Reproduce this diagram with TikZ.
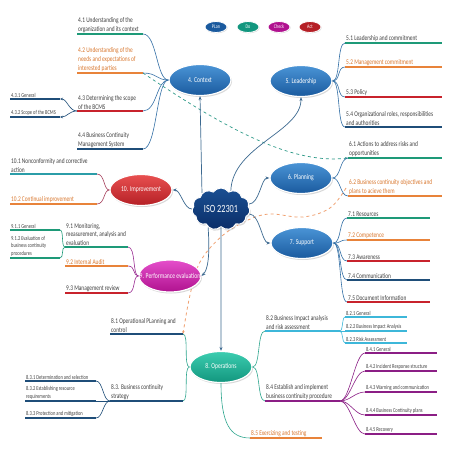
\documentclass[tikz,border=0pt]{standalone}
\usepackage{fontspec}
\setmainfont[FakeStretch=0.75]{Carlito}
\usetikzlibrary{shapes.geometric,shapes.symbols,shadows,arrows.meta,backgrounds}
\definecolor{cGreen}{HTML}{1E9A78}
\definecolor{cOrange}{HTML}{E8833A}
\definecolor{cRed}{HTML}{C8232C}
\definecolor{cNavy}{HTML}{1F4E79}
\definecolor{cTeal}{HTML}{2B9DA8}
\definecolor{cCyan}{HTML}{3DB7D9}
\definecolor{cPurple}{HTML}{8B1E85}
\definecolor{txtgray}{HTML}{404040}
\definecolor{txtorange}{HTML}{D9772E}
\definecolor{twBlue}{HTML}{3470A6}
\definecolor{twRed}{HTML}{A6405C}
\definecolor{twPurple}{HTML}{9A2C92}
\definecolor{twTeal}{HTML}{2EA68E}
\definecolor{linkblue}{HTML}{3C6990}
\definecolor{blueTop}{HTML}{4A94D6}
\definecolor{blueBot}{HTML}{1A5A9E}
\definecolor{redTop}{HTML}{E85050}
\definecolor{redBot}{HTML}{B52026}
\definecolor{magTop}{HTML}{E54FCB}
\definecolor{magBot}{HTML}{B0128F}
\definecolor{tealTop}{HTML}{3CCDB0}
\definecolor{tealBot}{HTML}{12967E}
\definecolor{cloudTop}{HTML}{1A4F92}
\definecolor{cloudBot}{HTML}{0B2E68}
\definecolor{dashGreen}{HTML}{2E9A88}
\definecolor{dashOrange}{HTML}{F0A070}

\begin{document}
\begin{tikzpicture}[x=1pt, y=-1pt,
  every node/.style={font=\fontsize{7.2}{8.6}\selectfont, text=txtgray},
  topic/.style={ellipse, draw=white, line width=1.2pt, minimum width=62pt,
    minimum height=31pt, inner sep=0pt, text=white, font=\fontsize{7.5}{9}\selectfont,
    drop shadow={opacity=.3, shadow xshift=1pt, shadow yshift=-1.5pt}},
  blue topic/.style={topic, top color=blueTop, bottom color=blueBot},
  red topic/.style={topic, top color=redTop, bottom color=redBot},
  magenta topic/.style={topic, top color=magTop, bottom color=magBot},
  teal topic/.style={topic, top color=tealTop, bottom color=tealBot},
  hub/.style={cloud, cloud puffs=11, cloud puff arc=110, cloud ignores aspect,
    minimum width=58pt, minimum height=42pt, inner sep=0pt, draw=white, line width=1pt,
    top color=cloudTop, bottom color=cloudBot, text=white, font=\fontsize{11}{13}\selectfont,
    drop shadow={opacity=.3, shadow xshift=1pt, shadow yshift=-1.5pt}},
  pdca/.style={ellipse, draw=white, line width=.8pt, minimum width=22pt, minimum height=11pt,
    inner sep=0pt, text=white, font=\fontsize{5.5}{6}\selectfont,
    drop shadow={opacity=.3, shadow xshift=.6pt, shadow yshift=-.8pt}},
  item/.style={anchor=south west, align=left, inner xsep=1pt, inner ysep=1.5pt},
  subitem/.style={item, font=\fontsize{6}{7.5}\selectfont},
  uline/.style={line width=1.6pt},
  twig/.style={line width=.6pt},
  link/.style={line width=.7pt, draw=linkblue, -{Stealth[length=4pt,width=3pt]}},
  tip/.style={-{Stealth[length=3pt,width=2.5pt]}}]
\begin{pgfonlayer}{background}
  \fill[white] (0,0) rectangle (452,452);
\end{pgfonlayer}
\useasboundingbox (0,0) rectangle (452,452);

% legend
\node[pdca, fill=blueBot] (lgP) at (216,27) {PLan};
\node[pdca, fill=tealBot] (lgD) at (248,27) {Do};
\node[pdca, fill=magBot] (lgC) at (279,27) {Check};
\node[pdca, fill=redBot] (lgA) at (310,27) {Act};

% clauses
\node[blue topic] (ctx) at (200,80) {4. Context};
\node[blue topic] (lead) at (301,81) {5. Leadership};
\node[blue topic] (plan) at (301,178) {6. Planning};
\node[blue topic] (supp) at (302,243) {7. Support};
\node[red topic] (impr) at (141,190) {10. Improvement};
\node[magenta topic, minimum height=32pt] (perf) at (170,276) {\makebox[0pt]{9. Performance evaluation}};
\node[teal topic] (ops) at (221,367) {8. Operations};
\node[hub] (iso) at (221,209) {ISO 22301};

\draw[link] (iso.140) -- (ctx.south);
\draw[link] (iso.62) .. controls +(2,-45) and +(0,35) .. (lead.south);
\draw[link] (iso.10) .. controls +(10,0) and +(-8,0) .. (plan.west);
\draw[link] (iso.-10) .. controls +(10,0) and +(-8,0) .. (supp.west);
\draw[link] (iso.west) .. controls +(-8,0) and +(8,0) .. (impr.east);
\draw[link] (iso.235) .. controls +(2,30) and +(6,-6) .. (perf.east);
\draw[link] (iso.south) -- (ops.north);

% 4. Context
\node[item] (t41) at (77,34) {4.1 Understanding of the\\organization and its context};
\draw[uline, cGreen] (t41.south west) -- ++(66,0) coordinate (e41);
\node[item, text=txtorange] (t42) at (77,73) {4.2 Understanding of the\\needs and expectations of\\interested parties};
\draw[uline, cOrange] (t42.south west) -- ++(66,0) coordinate (e42);
\node[item] (t43) at (77,111) {4.3 Determining the scope\\of the BCMS};
\draw[uline, cRed] (t43.south west) coordinate (s43) -- ++(66,0) coordinate (e43);
\node[item] (t44) at (77,149) {4.4 Business Continuity\\Management System};
\draw[uline, cNavy] (t44.south west) -- ++(66,0) coordinate (e44);
\foreach \e in {e41,e42,e43,e44}
  \draw[twig, twBlue] (\e) .. controls +(14,0) and +(-12,0) .. (ctx.west);
\node[subitem] (t431) at (10,99) {4.3.1 General};
\draw[uline, cNavy] (t431.south west) -- ++(50,0) coordinate (e431);
\node[subitem] (t432) at (10,117) {4.3.2 Scope of the BCMS};
\draw[uline, cNavy] (t432.south west) -- ++(50,0) coordinate (e432);
\draw[twig, cNavy, tip] (s43) .. controls +(-8,0) and +(7,0) .. (e431);
\draw[twig, cNavy, tip] (s43) .. controls +(-8,0) and +(7,0) .. (e432);

% 5. Leadership
\node[item] (t51) at (345,43) {5.1 Leadership and commitment};
\draw[uline, cGreen] (t51.south west) coordinate (s51) -- ++(97,0);
\node[item, text=txtorange] (t52) at (345,67) {5.2 Management commitment};
\draw[uline, cOrange] (t52.south west) coordinate (s52) -- ++(97,0);
\node[item] (t53) at (345,97) {5.3 Policy};
\draw[uline, cRed] (t53.south west) coordinate (s53) -- ++(97,0);
\node[item] (t54) at (345,127) {5.4 Organizational roles, responsibilities\\and authorities};
\draw[uline, cNavy] (t54.south west) coordinate (s54) -- ++(97,0);
\foreach \s in {s51,s52,s53,s54}
  \draw[twig, twBlue] (lead.east) .. controls +(8,0) and +(-8,0) .. (\s);

% 6. Planning
\node[item] (t61) at (348,158) {6.1 Actions to address risks and\\opportunities};
\draw[uline, cGreen] (t61.south west) coordinate (s61) -- ++(94,0);
\node[item, text=txtorange] (t62) at (348,196) {6.2 Business continuity objectives and\\plans to acieve them};
\draw[uline, cOrange] (t62.south west) coordinate (s62) -- ++(94,0);
\foreach \s in {s61,s62}
  \draw[twig, twBlue] (plan.east) .. controls +(8,0) and +(-8,0) .. (\s);

% 7. Support
\node[item] (t71) at (347,218) {7.1 Resources};
\draw[uline, cGreen] (t71.south west) coordinate (s71) -- ++(83,0);
\node[item, text=txtorange] (t72) at (347,240) {7.2 Competence};
\draw[uline, cOrange] (t72.south west) coordinate (s72) -- ++(83,0);
\node[item] (t73) at (347,261) {7.3 Awareness};
\draw[uline, cRed] (t73.south west) coordinate (s73) -- ++(83,0);
\node[item] (t74) at (347,280) {7.4 Communication};
\draw[uline, cNavy] (t74.south west) coordinate (s74) -- ++(83,0);
\node[item] (t75) at (347,302) {7.5 Document Information};
\draw[uline, cRed] (t75.south west) coordinate (s75) -- ++(83,0);
\foreach \s in {s71,s72,s73,s74,s75}
  \draw[twig, twBlue] (supp.east) .. controls +(8,0) and +(-8,0) .. (\s);

% 10. Improvement
\node[item] (t101) at (10,174) {10.1 Nonconformity and corrective\\action};
\draw[uline, cTeal] (t101.south west) -- ++(87,0) coordinate (e101);
\node[item, text=txtorange] (t102) at (10,204) {10.2 Continual improvement};
\draw[uline, cOrange] (t102.south west) -- ++(87,0) coordinate (e102);
\foreach \e in {e101,e102}
  \draw[twig, twRed] (\e) .. controls +(8,0) and +(-6,0) .. (impr.west);

% 9. Performance evaluation
\node[item] (t91) at (65,247) {9.1 Monitoring,\\measurement, analysis and\\evaluation};
\draw[uline, cGreen] (t91.south west) coordinate (s91) -- ++(63,0) coordinate (e91);
\node[item, text=txtorange] (t92) at (65,266) {9.2 Internal Audit};
\draw[uline, cOrange] (t92.south west) -- ++(63,0) coordinate (e92);
\node[item] (t93) at (65,293) {9.3 Management review};
\draw[uline, cRed] (t93.south west) -- ++(63,0) coordinate (e93);
\foreach \e in {e91,e92,e93}
  \draw[twig, twPurple] (\e) .. controls +(8,0) and +(-6,0) .. (perf.west);
\node[subitem] (t911) at (10,230) {9.1.1 General};
\draw[uline, cGreen] (t911.south west) -- ++(50,0) coordinate (e911);
\node[subitem] (t912) at (10,258) {9.1.2 Evaluation of\\business continuity\\procedures};
\draw[uline, cGreen] (t912.south west) -- ++(50,0) coordinate (e912);
\foreach \e in {e911,e912}
  \draw[twig, cGreen] (s91) .. controls +(-4,0) and +(4,0) .. (\e);

% 8. Operations
\node[item] (t81) at (110,334) {8.1 Operational PLanning and\\control};
\draw[uline, cNavy] (t81.south west) -- ++(73,0) coordinate (e81);
\node[item] (t83) at (110,401) {8.3. Business continuity\\strategy};
\draw[uline, cNavy] (t83.south west) coordinate (s83) -- ++(73,0) coordinate (e83);
\foreach \e in {e81,e83}
  \draw[twig, twTeal] (\e) .. controls +(6,0) and +(-6,0) .. (ops.west);
\node[subitem] (t831) at (25,381) {8.3.1 Determination and selection};
\draw[uline, cNavy] (t831.south west) -- ++(71,0) coordinate (e831);
\node[subitem] (t832) at (25,401) {8.3.2 Establishing resource\\requirements};
\draw[uline, cNavy] (t832.south west) -- ++(71,0) coordinate (e832);
\node[subitem] (t833) at (25,418) {8.3.3 Protection and mitigation};
\draw[uline, cNavy] (t833.south west) -- ++(71,0) coordinate (e833);
\foreach \e in {e831,e832,e833}
  \draw[twig, cNavy] (s83) .. controls +(-7,0) and +(7,0) .. (\e);

\node[item] (t82) at (265,331) {8.2 Business Impact analysis\\and risk assessment};
\draw[uline, cCyan] (t82.south west) coordinate (s82) -- ++(75,0) coordinate (e82);
\node[subitem] (t821) at (345,317) {8.2.1 General};
\draw[uline, cCyan] (t821.south west) coordinate (s821) -- ++(62,0);
\node[subitem] (t822) at (345,331) {8.2.2 Business Impact Analysis};
\draw[uline, cCyan] (t822.south west) coordinate (s822) -- ++(62,0);
\node[subitem] (t823) at (345,343) {8.2.3 Risk Assessment};
\draw[uline, cCyan] (t823.south west) coordinate (s823) -- ++(62,0);
\foreach \s in {s821,s822,s823}
  \draw[twig, cCyan] (e82) .. controls +(3,0) and +(-3,0) .. (\s);

\node[item] (t84) at (265,401) {8.4 Establish and implement\\business continuity procedure};
\draw[uline, cPurple] (t84.south west) coordinate (s84) -- ++(75,0) coordinate (e84);
\node[subitem] (t841) at (365,353) {8.4.1 General};
\draw[uline, cPurple] (t841.south west) coordinate (s841) -- ++(72,0);
\node[subitem] (t842) at (365,371) {8.4.2 Incident Response structure};
\draw[uline, cPurple] (t842.south west) coordinate (s842) -- ++(72,0);
\node[subitem] (t843) at (365,392) {8.4.3 Warning and communication};
\draw[uline, cPurple] (t843.south west) coordinate (s843) -- ++(72,0);
\node[subitem] (t844) at (365,415) {8.4.4 Business Continuity plans};
\draw[uline, cPurple] (t844.south west) coordinate (s844) -- ++(72,0);
\node[subitem] (t845) at (365,434) {8.4.5 Recovery};
\draw[uline, cPurple] (t845.south west) coordinate (s845) -- ++(72,0);
\foreach \s in {s841,s842,s843,s844,s845}
  \draw[twig, cPurple] (e84) .. controls +(10,0) and +(-10,0) .. (\s);

\node[item, text=txtorange] (t85) at (250,438) {8.5 Exercizing and testing};
\draw[uline, cOrange] (t85.south west) coordinate (s85) -- ++(72,0);

\foreach \s in {s82,s84}
  \draw[twig, twTeal] (ops.east) .. controls +(8,0) and +(-8,0) .. (\s);
\draw[twig, twTeal] (ops.south) .. controls +(0,40) and +(-20,0) .. (s85);

% dashed cross links
\begin{pgfonlayer}{background}
  \draw[dashGreen, dashed, line width=.7pt, tip] (e42) .. controls (220,125) and (290,165) .. (s61);
  \draw[dashOrange, dashed, line width=.8pt, tip] plot[smooth, tension=.6] coordinates
    {(346,188) (330,208) (303,217) (270,214) (248,220) (222,236) (200,262) (190,295) (e81)};
\end{pgfonlayer}
\end{tikzpicture}
\end{document}
